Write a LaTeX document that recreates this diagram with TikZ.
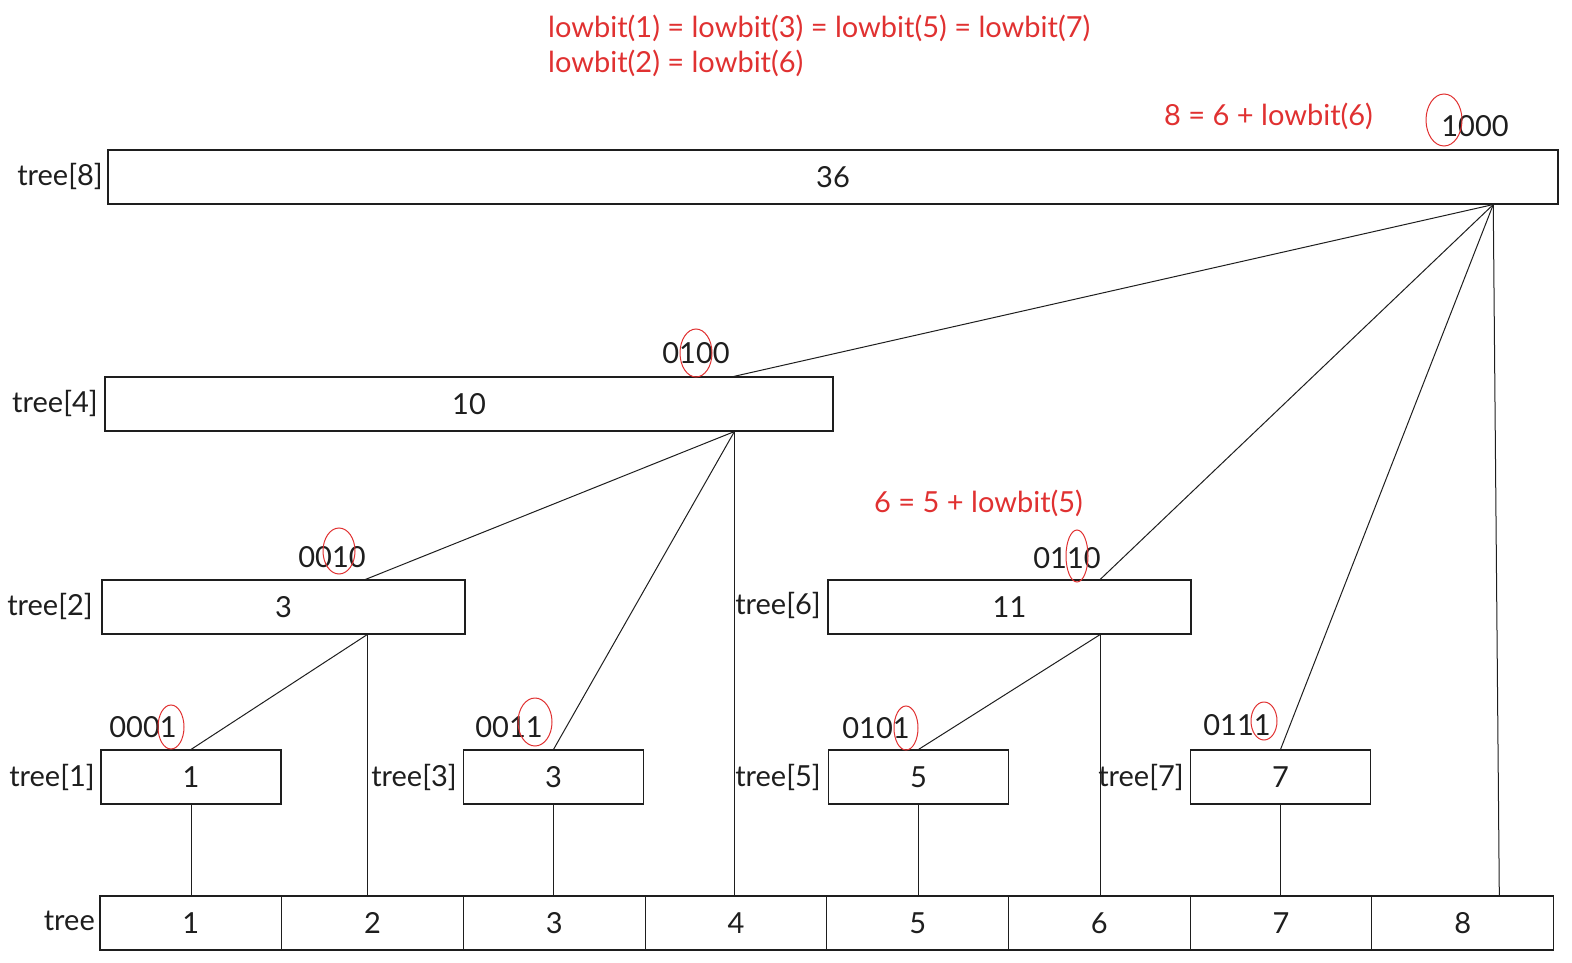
\documentclass[tikz,border=0pt]{standalone}
\usepackage{fontspec}
\setmainfont{Lato}
\usetikzlibrary{calc}
\definecolor{ink}{RGB}{30,30,30}
\definecolor{redink}{RGB}{224,49,49}
\tikzset{
  cell/.style={draw=ink, line width=1.1pt, inner sep=0pt, minimum height=54pt, text=ink, font=\fontsize{29}{33}\selectfont},
  lbl/.style={text=ink, font=\fontsize{29}{33}\selectfont, inner sep=0pt},
  note/.style={text=redink, font=\fontsize{29}{33}\selectfont, inner sep=0pt, anchor=west},
  ring/.style={draw=redink, line width=1pt},
  link/.style={draw=ink, line width=1pt}
}
\begin{document}
\begin{tikzpicture}[x=1pt,y=-1pt]
    \useasboundingbox (0,0) rectangle (1572,963);
    % nodes of the tree
    \node[cell, minimum width=1450pt] (t8) at (833,177) {36};
    \node[cell, minimum width=728pt] (t4) at (469,404) {10};
    \node[cell, minimum width=363pt] (t2) at (283.5,607) {3};
    \node[cell, minimum width=363pt] (t6) at (1009.5,607) {11};
    \node[cell, minimum width=180pt] (t1) at (191,777) {1};
    \node[cell, minimum width=180pt] (t3) at (553.5,777) {3};
    \node[cell, minimum width=180pt] (t5) at (918.5,777) {5};
    \node[cell, minimum width=180pt] (t7) at (1280.5,777) {7};
    \foreach \i in {1,...,8}
        \node[cell, minimum width=181.7pt] (c\i) at ({100+181.7*(\i-0.5)},923) {\i};
    % names
    \node[lbl, anchor=east] (l8) at (103,176) {tree[8]};
    \node[lbl, anchor=east] (l4) at (98,403) {tree[4]};
    \node[lbl, anchor=east] (l2) at (93,606) {tree[2]};
    \node[lbl, anchor=east] (l6) at (821,605) {tree[6]};
    \node[lbl, anchor=east] (l1) at (95,777) {tree[1]};
    \node[lbl, anchor=east] (l3) at (457,777) {tree[3]};
    \node[lbl, anchor=east] (l5) at (821,777) {tree[5]};
    \node[lbl, anchor=east] (l7) at (1184,777) {tree[7]};
    \node[lbl, anchor=east] (lt) at (95,921) {tree};
    % binary indices
    \node[lbl] (b8) at (1475,126) {1000};
    \node[lbl] (b4) at (696,353) {0100};
    \node[lbl] (b2) at (332,557) {0010};
    \node[lbl] (b6) at (1067,558) {0110};
    \node[lbl] (b1) at (143,727) {0001};
    \node[lbl] (b3) at (509,727) {0011};
    \node[lbl] (b5) at (876,728) {0101};
    \node[lbl] (b7) at (1237,725) {0111};
    \draw[ring] (1444,120) ellipse [x radius=18, y radius=26];
    \draw[ring] (696,353) ellipse [x radius=16, y radius=24];
    \draw[ring] (339,551) ellipse [x radius=16, y radius=23];
    \draw[ring] (1077,556) ellipse [x radius=11, y radius=26];
    \draw[ring] (171,727) ellipse [x radius=13, y radius=22];
    \draw[ring] (535,722) ellipse [x radius=17, y radius=24];
    \draw[ring] (906,728) ellipse [x radius=12, y radius=22];
    \draw[ring] (1264,721) ellipse [x radius=13, y radius=19];
    % red notes
    \node[note] (n1) at (548,28) {lowbit(1) = lowbit(3) = lowbit(5) = lowbit(7)};
    \node[note] (n2) at (548,63) {lowbit(2) = lowbit(6)};
    \node[note] (n3) at (1164,116) {8 = 6 + lowbit(6)};
    \node[note] (n4) at (874,503) {6 = 5 + lowbit(5)};
    % ports
    \coordinate (t8d) at ($(t8.south west)!.955!(t8.south east)$);
    \coordinate (t4u) at ($(t4.north west)!.863!(t4.north east)$);
    \coordinate (t4d) at ($(t4.south west)!.864!(t4.south east)$);
    \coordinate (t2u) at ($(t2.north west)!.725!(t2.north east)$);
    \coordinate (t2d) at ($(t2.south west)!.73!(t2.south east)$);
    \coordinate (t6u) at ($(t6.north west)!.749!(t6.north east)$);
    \coordinate (t6d) at ($(t6.south west)!.749!(t6.south east)$);
    \coordinate (c8u) at ($(c8.north west)!.7!(c8.north east)$);
    % links
    \draw[link] (t8d) -- (t4u);
    \draw[link] (t8d) -- (t6u);
    \draw[link] (t8d) -- (t7.north);
    \draw[link] (t8d) -- (c8u);
    \draw[link] (t4d) -- (t2u);
    \draw[link] (t4d) -- (t3.north);
    \draw[link] (t4d) -- (t4d |- c4.north);
    \draw[link] (t2d) -- (t1.north);
    \draw[link] (t2d) -- (t2d |- c2.north);
    \draw[link] (t6d) -- (t5.north);
    \draw[link] (t6d) -- (t6d |- c6.north);
    \draw[link] (t1.south) -- (t1.south |- c1.north);
    \draw[link] (t3.south) -- (t3.south |- c3.north);
    \draw[link] (t5.south) -- (t5.south |- c5.north);
    \draw[link] (t7.south) -- (t7.south |- c7.north);
\end{tikzpicture}
\end{document}
